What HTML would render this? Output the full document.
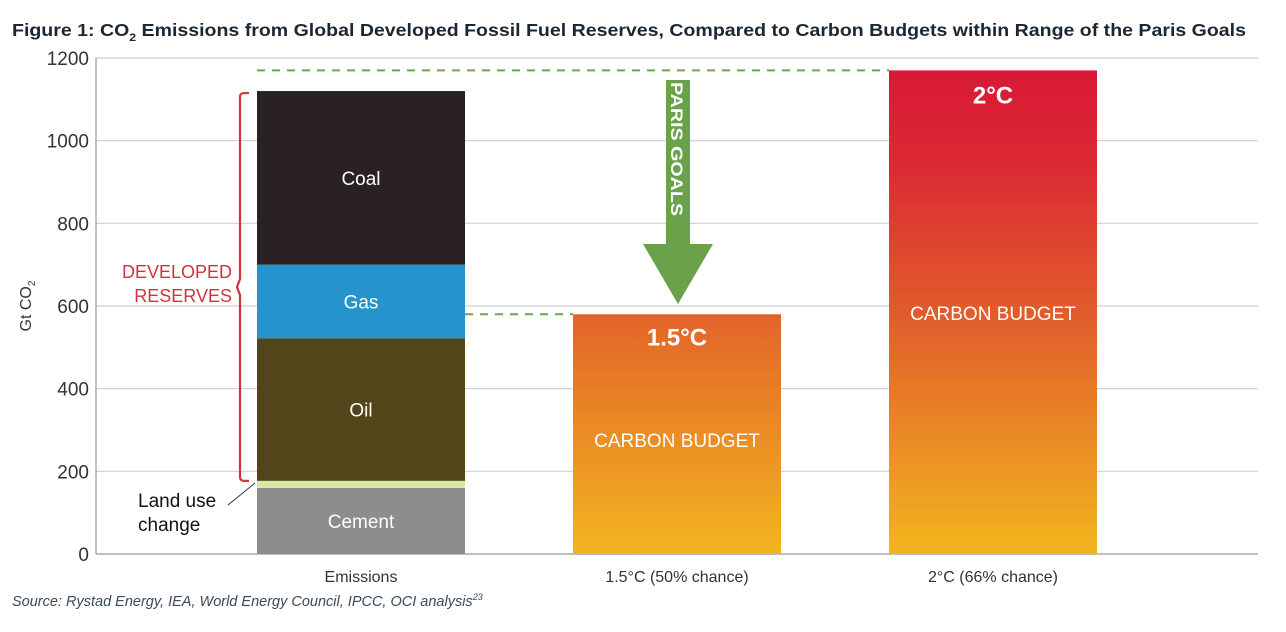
<!DOCTYPE html>
<html><head><meta charset="utf-8"><style>
body{margin:0;background:#fff;width:1286px;height:632px;overflow:hidden;font-family:"Liberation Sans",sans-serif}
svg{display:block}
</style></head><body>
<svg id="chart" width="1286" height="632">
<defs>
<linearGradient id="g15" x1="0" y1="0" x2="0" y2="1"><stop offset="0" stop-color="#e3642a"/><stop offset="1" stop-color="#f2b51e"/></linearGradient>
<linearGradient id="g2" x1="0" y1="0" x2="0" y2="1"><stop offset="0" stop-color="#d81936"/><stop offset="0.2" stop-color="#dc2a33"/><stop offset="0.55" stop-color="#e2642b"/><stop offset="1" stop-color="#f3b61d"/></linearGradient>
</defs>
<text x="12" y="36" font-size="17.5" font-weight="bold" fill="#1b2733" textLength="1234" lengthAdjust="spacingAndGlyphs">Figure 1: CO<tspan font-size="11" dy="5">2</tspan><tspan dy="-5"> Emissions from Global Developed Fossil Fuel Reserves, Compared to Carbon Budgets within Range of the Paris Goals</tspan></text>
<g id="grid"></g>
<g id="bars"></g>
<g id="ann"></g>
<text transform="translate(31,306) rotate(-90)" text-anchor="middle" font-size="16" fill="#333">Gt CO<tspan font-size="10" dy="4">2</tspan></text>
<text x="12" y="606" font-size="14.5" font-style="italic" fill="#3a4a5a">Source: Rystad Energy, IEA, World Energy Council, IPCC, OCI analysis<tspan font-size="9" dy="-6">23</tspan></text>
</svg>
<script>
const ticks=[0,200,400,600,800,1000,1200];
const categories=["Emissions","1.5°C (50% chance)","2°C (66% chance)"];
const stackNames=["Cement","Land use change","Oil","Gas","Coal"];
const stackValues=[160,17,345,178,420];
const budgetValues=[580,1170];
const NS="http://www.w3.org/2000/svg";
const y=v=>554-v*(496/1200);
const barX=i=>257+i*316, BW=208;
function mk(t,a,p){const e=document.createElementNS(NS,t);for(const k in a)e.setAttribute(k,a[k]);(p||document.getElementById('chart')).appendChild(e);return e;}
const grid=document.getElementById('grid'),bars=document.getElementById('bars'),ann=document.getElementById('ann');
ticks.forEach(t=>{
 const l=mk('line',{x1:96,x2:1258,y1:y(t),y2:y(t),stroke:t===0?'#999':'#cfcfcf','stroke-width':1.2},grid);
 
 
 const tx=mk('text',{x:89,y:y(t)+7,'text-anchor':'end','font-size':19,fill:'#333'},grid);tx.textContent=String(t);
 
 
});
const ax=mk('line',{x1:96,x2:96,y1:y(1200),y2:y(0),stroke:'#999','stroke-width':1.2},grid);


categories.forEach((c,i)=>{const t=mk('text',{x:barX(i)+BW/2,y:582,'text-anchor':'middle','font-size':16,fill:'#333'},grid);t.textContent=c;
 
 });
const colors=["#8e8c8c","#dbe7a6","#524519","#2793cc","#2a2222"];
const labels=["Cement","","Oil","Gas","Coal"];
let acc=0;
stackValues.forEach((v,i)=>{
 const r=mk('rect',{x:barX(0),y:y(acc+v),width:BW,height:y(acc)-y(acc+v),fill:colors[i]},bars);
 
 
 if(labels[i]){const t=mk('text',{x:barX(0)+BW/2,y:(y(acc)+y(acc+v))/2+7,'text-anchor':'middle','font-size':19,fill:'#fff'},bars);t.textContent=labels[i];
 
 }
 acc+=v;
});
const total=acc;
budgetValues.forEach((v,j)=>{
 const i=j+1;
 const r=mk('rect',{x:barX(i),y:y(v),width:BW,height:y(0)-y(v),fill:j?'url(#g2)':'url(#g15)'},bars);
 
 
 const t1=mk('text',{x:barX(i)+BW/2,y:y(v)+(j?33:31),'text-anchor':'middle','font-size':24,'font-weight':'bold',fill:'#fff'},bars);t1.textContent=j?'2°C':'1.5°C';
 
 
 const t2=mk('text',{x:barX(i)+BW/2,y:j?320:447,'text-anchor':'middle','font-size':19,fill:'#fff'},bars);t2.textContent='CARBON BUDGET';
 
 
 const d=mk('line',{x1:j?257:465,x2:barX(i),y1:y(v),y2:y(v),stroke:'#6aa84f','stroke-width':2,'stroke-dasharray':'8,7'},ann);
 
 
});
const bTop=y(total)+2,bBot=y(stackValues[0]+stackValues[1]);
const br=mk('path',{d:`M249 ${bTop} h-5 q-4 0 -4 4 V${(bTop+bBot)/2-8} l-3 8 l3 8 V${bBot-4} q0 4 4 4 h5`,fill:'none',stroke:'#d1343e','stroke-width':2.2},ann);


[['DEVELOPED',278],['RESERVES',302]].forEach((a,k)=>{const t=mk('text',{x:232,y:a[1],'text-anchor':'end','font-size':18,fill:'#d1343e'},ann);t.textContent=a[0];
 
 });
[['Land use',507],['change',531]].forEach((a,k)=>{const t=mk('text',{x:138,y:a[1],'font-size':19,fill:'#111'},ann);t.textContent=a[0];
 
 });
const ll=mk('line',{x1:228,y1:505,x2:255,y2:483,stroke:'#333','stroke-width':1},ann);


const ar=mk('path',{d:'M666 80 H690 V244 H713 L678 304 L643 244 H666 Z',fill:'#6aa24b'},ann);


const at=mk('text',{transform:'translate(671,82) rotate(90)','font-size':17,'font-weight':'bold',fill:'#fff','textLength':134,'lengthAdjust':'spacingAndGlyphs'},ann);at.textContent='PARIS GOALS';


</script>
</body></html>
